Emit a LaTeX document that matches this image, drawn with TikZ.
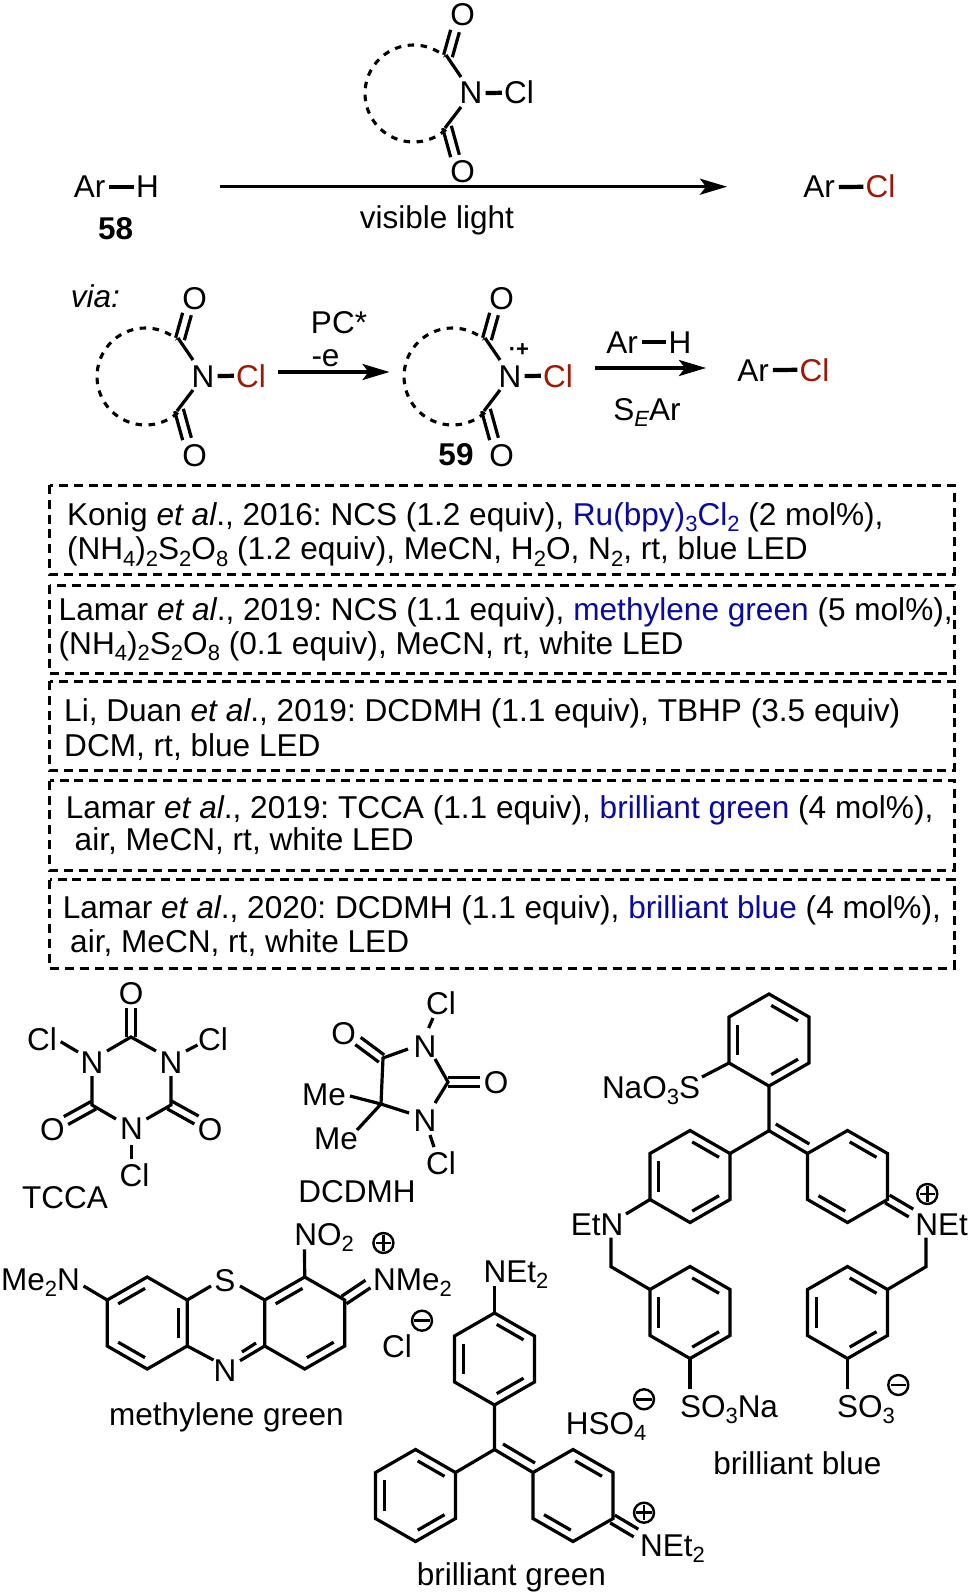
\documentclass[tikz,border=0pt]{standalone}
\usepackage{fontspec}
\setmainfont{Liberation Sans}
\usetikzlibrary{arrows.meta,calc}
\definecolor{rxred}{RGB}{155,25,5}
\definecolor{rxblue}{RGB}{10,10,160}
\frenchspacing
\newcommand{\Sb}[1]{\raisebox{-6.5pt}{\fontsize{22}{22}\selectfont #1}}
\newcommand{\lab}[4]{\node[lab] (#1) at (#2,#3) {#4};}
\newcommand{\dbl}[2]{\draw[bond] ($#1!4.5pt!90:#2$) -- ($#2!4.5pt!-90:#1$); \draw[bond] ($#1!-4.5pt!90:#2$) -- ($#2!-4.5pt!-90:#1$);}
\newcommand{\ring}[3]{%
  \coordinate (#1c) at (#2,#3);
  \coordinate (#1a) at (#2,#3-46);
  \coordinate (#1b) at (#2+40,#3-23);
  \coordinate (#1d) at (#2+40,#3+23);
  \coordinate (#1e) at (#2,#3+46);
  \coordinate (#1f) at (#2-40,#3+23);
  \coordinate (#1g) at (#2-40,#3-23);
  \draw[bond,line join=miter] (#1a)--(#1b)--(#1d)--(#1e)--(#1f)--(#1g)--cycle;}
\newcommand{\inn}[3]{\draw[bond] ($($(#1c)!.78!(#1#2)$)!.07!($(#1c)!.78!(#1#3)$)$) -- ($($(#1c)!.78!(#1#3)$)!.07!($(#1c)!.78!(#1#2)$)$);}
\newcommand{\stdinn}[1]{\inn{#1}{a}{b}\inn{#1}{d}{e}\inn{#1}{f}{g}}
\newcommand{\chg}[4]{\node[chargec] (#1) at (#2,#3) {};
  \draw[chargel] (#1.west) -- (#1.east);
  \ifx#4p\draw[chargel] (#1.north) -- (#1.south);\fi}
\newcommand{\imide}[5]{%
\begin{scope}[shift={(#1,#2)}]
  \draw[dashring] plot[domain=48:310,samples=60] ({413.5+48.5*cos(\x)},{93.5+48.5*sin(\x)});
  \lab{#3ot}{462.6}{26}{O}
  \lab{#3ob}{462.6}{183}{O}
  \lab{#3n}{471}{104}{N}
  \lab{#3cl}{519}{104}{\textcolor{#4}{Cl}}
  \coordinate (#3ct) at (446,55);
  \coordinate (#3cb) at (445,128);
  \dbl{(448,56)}{(455,31)}
  \dbl{(447,127)}{(455,156)}
  \draw[bond] (#3ct) -- (461,77);
  \draw[bond] (#3cb) -- (461,107);
  \draw[hbond,shorten <=3pt,shorten >=2pt] (#3n.east) -- (#3cl.west);
\end{scope}}
\tikzset{
  lab/.style={anchor=base,inner sep=0pt,font=\fontsize{31.5}{31.5}\selectfont},
  bond/.style={line width=3.2pt,line cap=butt},
  hbond/.style={line width=4.2pt},
  rxarrow/.style={line width=3.2pt,-{Stealth[length=27pt,width=16pt,inset=6pt]}},
  dashring/.style={line width=3.1pt,dash pattern=on 6.5pt off 6.5pt},
  boxd/.style={line width=3pt,dash pattern=on 9pt off 5.8pt},
  txt/.style={anchor=base west,inner sep=0pt,font=\fontsize{31.6}{31.6}\selectfont},
  chargec/.style={circle,draw,line width=2.4pt,inner sep=0pt,minimum size=20pt},
  chargel/.style={line width=2.6pt,shorten <=3.5pt,shorten >=3.5pt},
}
\begin{document}
\begin{tikzpicture}[x=1pt,y=-1pt]
\useasboundingbox (0,0) rectangle (970,1594);
\fill[white] (0,0) rectangle (970,1594);
% top scheme
\imide{0}{0}{a}{black}{}
\lab{ar1}{89.5}{198}{Ar}
\lab{h1}{147.5}{198}{H}
\draw[hbond,shorten <=4pt,shorten >=2pt] (ar1.east) -- (h1.west);
\lab{n58}{115.6}{240}{\textbf{58}}
\coordinate (a1s) at (219.5,186.7);
\coordinate (a1e) at (727,186.7);
\draw[rxarrow] (a1s) -- (a1e);
\lab{vis}{437}{229}{visible light}
\lab{ar2}{819}{198}{Ar}
\lab{cl2}{880.5}{198}{\textcolor{rxred}{Cl}}
\draw[hbond,shorten <=4pt,shorten >=2pt] (ar2.east) -- (cl2.west);
% via
\lab{via}{95.5}{307.5}{\textit{via:}}
\imide{-268}{283}{b}{rxred}{}
\imide{39}{283}{c}{rxred}{}
\node[inner sep=0pt,font=\fontsize{22}{22}\selectfont\bfseries] (rad) at (519,350) {·+};
\coordinate (a2s) at (278,372);
\coordinate (a2e) at (389.5,372);
\draw[rxarrow] (a2s) -- (a2e);
\lab{pc}{339}{334}{PC*}
\lab{me}{325.5}{366}{-e}
\lab{n59}{456}{465}{\textbf{59}}
\coordinate (a3s) at (595,368);
\coordinate (a3e) at (706,368);
\draw[rxarrow] (a3s) -- (a3e);
\lab{ar3}{622}{353}{Ar}
\lab{h3}{680}{353}{H}
\draw[hbond,shorten <=4pt,shorten >=2pt] (ar3.east) -- (h3.west);
\lab{sear}{647}{420}{S\Sb{\textit{E}}Ar}
\lab{ar4}{753}{381}{Ar}
\lab{cl4}{814.5}{381}{\textcolor{rxred}{Cl}}
\draw[hbond,shorten <=4pt,shorten >=2pt] (ar4.east) -- (cl4.west);
% boxes
\draw[boxd] (49.6,485) rectangle (954,574);
\draw[boxd] (49.6,585) rectangle (954,673);
\draw[boxd] (49.6,681) rectangle (954,770);
\draw[boxd] (49.6,780.7) rectangle (954,870);
\draw[boxd] (49.6,879.7) rectangle (954,968);
\node[txt] (t1a) at (66.8,525) {Konig \textit{et al}., 2016: NCS (1.2 equiv), \textcolor{rxblue}{Ru(bpy)\Sb{3}Cl\Sb{2}} (2 mol\%),};
\node[txt] (t1b) at (66.8,559.5) {(NH\Sb{4})\Sb{2}S\Sb{2}O\Sb{8} (1.2 equiv), MeCN, H\Sb{2}O, N\Sb{2}, rt, blue LED};
\node[txt] (t2a) at (58.5,620) {Lamar \textit{et al}., 2019: NCS (1.1 equiv), \textcolor{rxblue}{methylene green} (5 mol\%),};
\node[txt] (t2b) at (58.5,654) {(NH\Sb{4})\Sb{2}S\Sb{2}O\Sb{8} (0.1 equiv), MeCN, rt, white LED};
\node[txt] (t3a) at (64,721.5) {Li, Duan \textit{et al}., 2019: DCDMH (1.1 equiv), TBHP (3.5 equiv)};
\node[txt] (t3b) at (64,756) {DCM, rt, blue LED};
\node[txt] (t4a) at (65.6,818) {Lamar \textit{et al}., 2019: TCCA (1.1 equiv), \textcolor{rxblue}{brilliant green} (4 mol\%),};
\node[txt] (t4b) at (74.5,850) {air, MeCN, rt, white LED};
\node[txt] (t5a) at (62.6,918) {Lamar \textit{et al}., 2020: DCDMH (1.1 equiv), \textcolor{rxblue}{brilliant blue} (4 mol\%),};
\node[txt] (t5b) at (70,952) {air, MeCN, rt, white LED};
% TCCA
\lab{to}{131}{1004}{O}
\lab{tnl}{92}{1073}{N}
\lab{tnr}{171}{1073}{N}
\lab{tnb}{131.4}{1139}{N}
\lab{tol}{52.5}{1140}{O}
\lab{tor}{210}{1140}{O}
\lab{tcl}{42}{1050}{Cl}
\lab{tcr}{213}{1050}{Cl}
\lab{tcb}{134.6}{1186}{Cl}
\lab{tcca}{65}{1208}{TCCA}
\dbl{(131,1037)}{(131,1008)}
\draw[bond] (107,1051) -- (131,1037) -- (156,1051);
\draw[bond] (92,1076) -- (92,1105) -- (116,1119);
\draw[bond] (171,1076) -- (171,1105) -- (146.4,1119);
\draw[bond] (60.7,1041.7) -- (78,1052);
\draw[bond] (186,1051) -- (197.5,1045);
\draw[bond] (131.4,1145) -- (131.4,1159);
\dbl{(94,1105)}{(66,1120.5)}
\dbl{(169.5,1105)}{(196.5,1120)}
% DCDMH
\lab{dnt}{425}{1057}{N}
\lab{dnb}{425}{1131}{N}
\lab{dct}{441}{1014}{Cl}
\lab{dcb}{441}{1174}{Cl}
\lab{dol}{343.6}{1044}{O}
\lab{dor}{496}{1093}{O}
\lab{dm1}{324}{1105}{Me}
\lab{dm2}{336}{1149}{Me}
\lab{dcd}{357}{1202}{DCDMH}
\draw[bond] (408,1049) -- (383,1058) -- (381,1104) -- (409,1113);
\draw[bond] (435,1059) -- (448,1082) -- (435,1103);
\draw[bond] (428.6,1028) -- (433,1018);
\draw[bond] (430,1135) -- (434,1147);
\draw[bond] (350,1096) -- (381,1104) -- (357,1130);
\dbl{(381.5,1058.5)}{(358,1041)}
\dbl{(448,1082)}{(480,1082)}
% methylene green
\ring{ma}{147.2}{1323}\ring{mc}{304.7}{1323}
\inn{ma}{g}{a}\inn{ma}{b}{d}\inn{ma}{e}{f}
\inn{mc}{g}{a}\inn{mc}{d}{e}
\lab{ms}{225}{1291}{S}
\lab{mn}{225}{1381}{N}
\lab{mme}{40.5}{1290}{Me\Sb{2}N}
\lab{mno}{324}{1245}{NO\Sb{2}}
\lab{mnm}{412.5}{1290}{NMe\Sb{2}}
\lab{mcl}{397}{1357.5}{Cl}
\lab{mname}{226.5}{1425}{methylene green}
\chg{mplus}{383.4}{1243}{p}
\chg{mminus}{422}{1320.7}{m}
\draw[bond] (83.6,1286) -- (maf|-mag);
\draw[bond] (mab) -- (211,1286);
\draw[bond] (240,1286) -- (mcg);
\draw[bond] (mad) -- (213.5,1360);
\draw[bond] (240,1360.7) -- (mcf);
\draw[bond] (242,1352) -- (256,1343);
\draw[bond] (304.5,1249.3) -- (mca);
\dbl{(344,1300)}{(368,1284)}
% brilliant green
\ring{gu}{494.5}{1359}\ring{gl}{415.5}{1495.5}\ring{gr}{573}{1495.5}
\stdinn{gu}\stdinn{gl}\inn{gr}{a}{b}\inn{gr}{e}{f}
\coordinate (gcen) at (494.5,1449.5);
\lab{gn1}{516}{1282}{NEt\Sb{2}}
\lab{gn2}{672.5}{1556}{NEt\Sb{2}}
\lab{gname}{511.5}{1585}{brilliant green}
\lab{ghso}{606}{1434}{HSO\Sb{4}}
\chg{gplus}{644}{1512.7}{p}
\chg{gminus}{644}{1399.3}{m}
\draw[bond] (494.5,1286) -- (gua);
\draw[bond] (gue) -- (gcen) -- (glb);
\draw[bond] (gcen) -- (grg);
\draw[bond] (503,1444) -- (535,1463);
\dbl{(612.5,1519)}{(636,1533)}
% brilliant blue
\ring{bt}{769}{1040}\ring{bl}{690}{1176.5}\ring{br}{847.5}{1176.5}
\ring{bp}{690}{1312.5}\ring{bq}{847.5}{1312.5}
\stdinn{bt}\stdinn{bl}\stdinn{bp}\stdinn{bq}
\inn{br}{a}{b}\inn{br}{e}{f}
\coordinate (bcen) at (769,1130.7);
\lab{bna}{651}{1098}{NaO\Sb{3}S}
\lab{ben1}{597}{1235}{EtN}
\lab{ben2}{941.5}{1235}{NEt}
\lab{bs1}{729}{1417}{SO\Sb{3}Na}
\lab{bs2}{866}{1417}{SO\Sb{3}}
\lab{bname}{797.5}{1474.5}{brilliant blue}
\chg{bplus}{927.3}{1194}{p}
\chg{bminus}{898.3}{1385}{m}
\draw[bond] (702,1077) -- (btf);
\draw[bond] (bte) -- (bcen) -- (blb);
\draw[bond] (bcen) -- (brg);
\draw[bond] (775.7,1124) -- (809.3,1144);
\dbl{(887.3,1199)}{(911,1213)}
\draw[bond] (blf) -- (626,1214);
\draw[bond,line join=miter] (611,1237.7) -- (611,1266.7) -- (bpg);
\draw[bond,line join=miter] (926,1237.7) -- (926,1266.7) -- (bqb);
\draw[bond] (bpe) -- (690,1389.3);
\draw[bond] (bqe) -- (847.5,1389.3);
\end{tikzpicture}
\end{document}
